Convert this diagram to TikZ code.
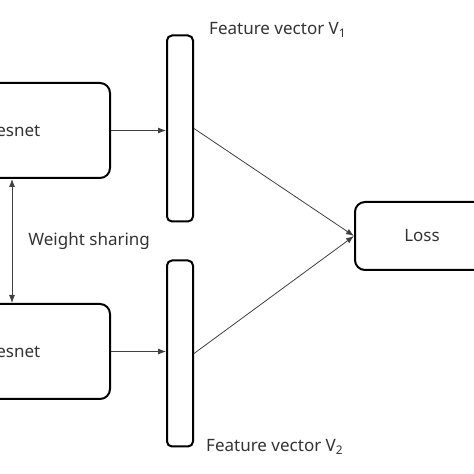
\documentclass[tikz,border=0pt]{standalone}
\usepackage{fontspec}
\setmainfont{Noto Sans}
\usepackage{tikz}
\usetikzlibrary{arrows.meta}

\tikzset{
	block/.style={shape=rectangle,draw=black,line width=2pt,rounded corners=10pt,text=black!80},
	vecbar/.style={shape=rectangle,draw=black,line width=2pt,rounded corners=5pt,minimum width=26pt,minimum height=186pt,inner sep=0pt},
	link/.style={draw=black!75,line width=0.8pt},
	tag/.style={text=black!80,inner sep=0pt}
}

\begin{document}
\begin{tikzpicture}[x=1pt,y=1pt,font=\fontsize{17}{20}\selectfont,>={Latex[length=8pt,width=6pt]}]
	
	\useasboundingbox (0,0) rectangle (474,474);
	\clip (0,0) rectangle (474,474);
	
	\node[block,minimum width=194pt,minimum height=95pt] (res1) at (13, 343.5) {Resnet};
	\node[block,minimum width=194pt,minimum height=95pt] (res2) at (13, 122.5) {Resnet};
	\node[vecbar] (v1) at (180, 345.5) {};
	\node[vecbar] (v2) at (180, 120.5) {};
	\node[block,minimum width=134pt,minimum height=68pt] (loss) at (422, 238) {Loss};
	\node[tag,anchor=west] (f1) at (209, 444) {Feature vector V\textsubscript{1}};
	\node[tag,anchor=west] (f2) at (206, 27)  {Feature vector V\textsubscript{2}};
	\draw[link,->] (res1.east) -- (res1.east -| v1.west);
	\draw[link,->] (res2.east) -- (res2.east -| v2.west);
	\draw[link,->] (v1.east) -- (loss.west);
	\draw[link,->] (v2.east) -- (loss.west);
	\draw[link,<->] ([xshift=-1pt]res1.south) -- node[tag,right=16pt] {Weight sharing} ([xshift=-1pt]res2.north);
	
\end{tikzpicture}
\end{document}
